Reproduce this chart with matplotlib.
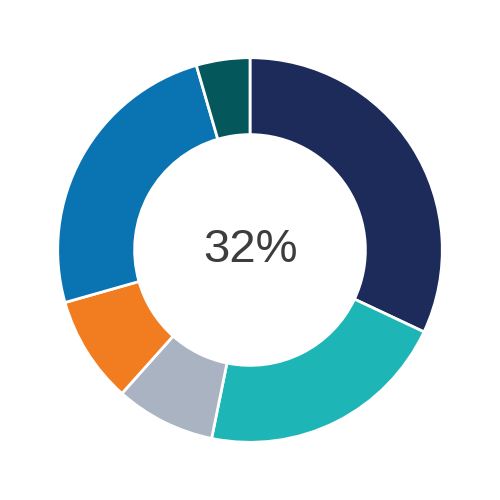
import matplotlib
matplotlib.use("Agg")
from matplotlib import pyplot as plt

labels = ["Navy", "Teal", "Gray", "Orange", "Blue", "Dark teal"]
values = [32, 21.2, 8.4, 9.0, 24.9, 4.5]
colors = ["#1c2b5a", "#1db5b5", "#a9b3c1", "#f27d21", "#0a74b2", "#04575a"]
center_label = "32%"

fig = plt.figure(figsize=(5, 5), dpi=100)
ax = fig.add_axes([0, 0, 1, 1])

ax.pie(values, colors=colors, startangle=90, counterclock=False,
       radius=1.0, wedgeprops=dict(width=0.4, edgecolor="white", linewidth=2))
ax.text(0, 0.0, center_label, ha="center", va="center", fontsize=34,
        color="#3d3d3d", family="Liberation Sans")

ax.set_xlim(-1.3, 1.3)
ax.set_ylim(-1.3, 1.3)
ax.set_aspect("equal")
ax.axis("off")

plt.savefig("out.png", dpi=100, facecolor="white")
plt.close()
